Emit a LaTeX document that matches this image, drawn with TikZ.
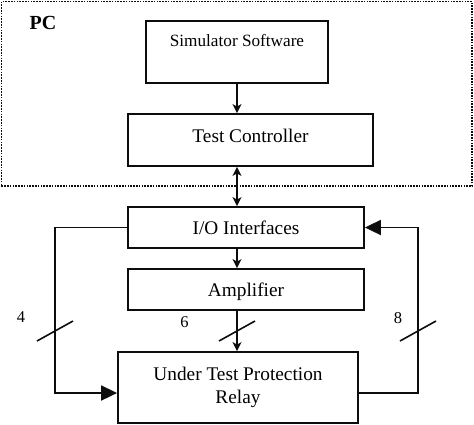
\documentclass[tikz,border=0pt]{standalone}
\usepackage{fontspec}
\setmainfont{Liberation Serif}
\usetikzlibrary{arrows.meta,positioning,calc}
\definecolor{figline}{gray}{0.05}
\tikzset{
  block/.style={
    rectangle, draw=figline, line width=1.8bp, fill=white,
    inner sep=0pt, align=center,
    font=\fontsize{19.3bp}{22.6bp}\selectfont
  },
  pcframe/.style={
    rectangle, draw=figline, line width=1.6bp,
    dash pattern=on 1.6bp off 1.2bp, inner sep=0pt
  },
  arrow/.style={->, >={Stealth[length=9bp,width=9bp,inset=2.5bp]},
    line width=1.8bp, draw=figline},
  twoway/.style={arrow, <->},
  feed/.style={-{Triangle[length=16bp,width=15bp]}, line width=1.8bp, draw=figline},
  busmark/.style={line width=1.6bp, draw=figline},
  count/.style={font=\fontsize{16.5bp}{20bp}\selectfont, inner sep=0pt}
}

\begin{document}
\begin{tikzpicture}[x=1bp, y=-1bp]
  \useasboundingbox (0,0) rectangle (474,424);

  % PC frame
  \node[pcframe, minimum width=470.5bp, minimum height=184.5bp] (pc) at (236.75,93.75) {};
  \node[font=\bfseries\fontsize{20bp}{24bp}\selectfont, inner sep=0pt] (pclabel) at (43,23) {PC};

  % Blocks
  \node[block, minimum width=182bp, minimum height=62bp,
    text height=12bp, text depth=22.6bp,
    font=\fontsize{17.2bp}{20bp}\selectfont] (sim) at (237,52) {Simulator Software};
  \node[block, minimum width=245bp, minimum height=52bp,
    text height=13bp, text depth=9bp] (tc) at (250.5,140) {Test Controller};
  \node[block, minimum width=236bp, minimum height=41bp,
    text height=13bp, text depth=0bp] (io) at (246,227.5) {I/O Interfaces};
  \node[block, minimum width=236bp, minimum height=41bp,
    text height=13bp, text depth=0bp] (amp) at (246,289.5) {Amplifier};
  \node[block, minimum width=240bp, minimum height=71bp] (relay) at (238,387.5)
    {Under Test Protection\\Relay};

  % Main path
  \coordinate (spine) at (sim.south);
  \draw[arrow] (sim.south) -- (spine |- tc.north);
  \draw[twoway] (spine |- tc.south) -- (spine |- io.north);
  \draw[arrow] (spine |- io.south) -- (spine |- amp.north);
  \draw[arrow] (spine |- amp.south) -- (spine |- relay.north);

  % Side loops
  \coordinate (lbus) at (55,393);
  \coordinate (rbus) at (418,393);
  \draw[feed] (io.west) -| (lbus) -- (lbus -| relay.west);
  \draw[feed] (rbus -| relay.east) -- (rbus) |- (io.east);

  % Bus width marks
  \coordinate (markrow) at (0,331);
  \foreach \bus in {lbus, spine, rbus}
    \draw[busmark] ($(\bus |- markrow) + (-18,10)$) -- ++(36,-20);

  \node[count] (n4) at (21,317.5) {4};
  \node[count] (n6) at (184.5,322.5) {6};
  \node[count] (n8) at (398,317.7) {8};

\end{tikzpicture}
\end{document}
